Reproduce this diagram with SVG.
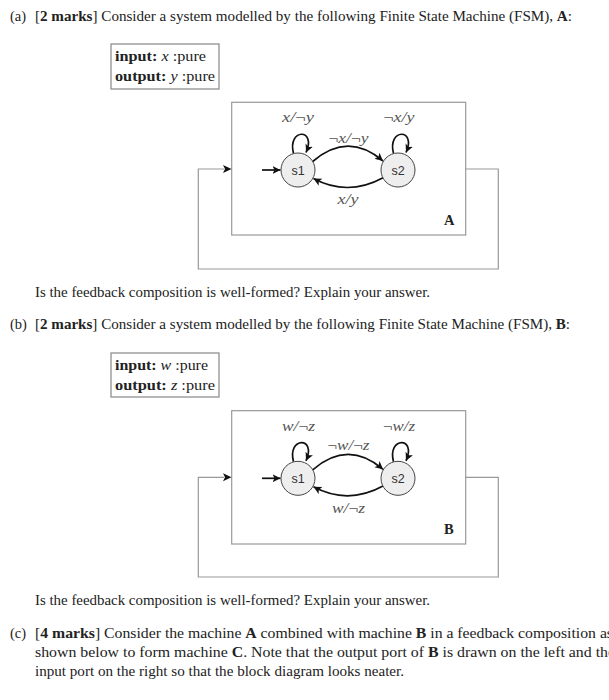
<svg xmlns="http://www.w3.org/2000/svg" width="609" height="700" viewBox="0 0 609 700">
<style>
.t{font-family:"Liberation Serif","DejaVu Serif",serif;font-size:14.5px;fill:#222}
.b{font-weight:bold}
.m{font-family:"Liberation Serif","DejaVu Serif",serif;font-style:italic;font-size:15px;fill:#555}
.frame{fill:none;stroke:#999;stroke-width:1.2}
.wire{fill:none;stroke:#999;stroke-width:1.2}
.edge{fill:none;stroke:#111;stroke-width:1.7}
.st{fill:#eeeeee;stroke:#444;stroke-width:1}
.sl{font-family:"Liberation Sans","DejaVu Sans",sans-serif;font-size:12.5px;fill:#333;text-anchor:middle}
.io{fill:#fff;stroke:#888;stroke-width:1.2}
</style>
<defs>
<marker id="arr" markerUnits="userSpaceOnUse" markerWidth="10" markerHeight="10" refX="8" refY="4" orient="auto">
<path d="M0,0 L8,4 L0,8 L2,4 z" fill="#111"/>
</marker>
</defs>
<rect width="609" height="700" fill="#fff"/>

<!-- Section (a) -->
<g id="textA">
<text class="t" x="10" y="21">(a)</text>
<text class="t" x="35" y="21" textLength="537" lengthAdjust="spacingAndGlyphs">[<tspan class="b">2 marks</tspan>] Consider a system modelled by the following Finite State Machine (FSM), <tspan class="b">A</tspan>:</text>
</g>
<g id="ioA">
<rect class="io" x="111" y="44" width="108" height="45"/>
<text class="t" x="115" y="61" textLength="91" lengthAdjust="spacingAndGlyphs"><tspan class="b">input:</tspan> <tspan font-style="italic">x</tspan> :pure</text>
<text class="t" x="115" y="81" textLength="100" lengthAdjust="spacingAndGlyphs"><tspan class="b">output:</tspan> <tspan font-style="italic">y</tspan> :pure</text>
</g>
<g id="machineA">
<rect class="frame" x="231.7" y="102.3" width="234" height="132.7"/>
<text class="t b" x="444" y="224.5">A</text>
</g>
<g id="connectorsA">
<path class="wire" d="M465.7,169 H498.3 V269 H198.3 V169 H224"/>
<path d="M223,165 L231.5,169 L223,173 L225,169 z" fill="#111"/>
<path class="edge" d="M262,170 H280.5" marker-end="url(#arr)"/>
<path class="edge" d="M312.7,161.5 Q348,131 383,161" marker-end="url(#arr)"/>
<path class="edge" d="M383.5,177.5 Q348,197 313.5,178.5" marker-end="url(#arr)"/>
<path class="edge" d="M293.5,153.5 C287,128 317,128 306,152.5" marker-end="url(#arr)"/>
<path class="edge" d="M393.5,153.5 C387,128 417,128 406,152.5" marker-end="url(#arr)"/>
<text class="m" x="282" y="122" textLength="32" lengthAdjust="spacingAndGlyphs">x/<tspan font-style="normal">¬</tspan>y</text>
<text class="m" x="328.5" y="143" textLength="40" lengthAdjust="spacingAndGlyphs"><tspan font-style="normal">¬</tspan>x/<tspan font-style="normal">¬</tspan>y</text>
<text class="m" x="383.5" y="122" textLength="31" lengthAdjust="spacingAndGlyphs"><tspan font-style="normal">¬</tspan>x/y</text>
<text class="m" x="337.5" y="204" textLength="21" lengthAdjust="spacingAndGlyphs">x/y</text>
</g>
<g id="A_s1">
<circle class="st" cx="298" cy="170" r="17"/>
<text class="sl" x="298" y="174.5">s1</text>
</g>
<g id="A_s2">
<circle class="st" cx="398" cy="170" r="17"/>
<text class="sl" x="398" y="174.5">s2</text>
</g>
<g id="qA">
<text class="t" x="35" y="297" textLength="395" lengthAdjust="spacingAndGlyphs">Is the feedback composition is well-formed? Explain your answer.</text>
</g>

<!-- Section (b) -->
<g transform="translate(0,308)">
<g id="textB">
<text class="t" x="10" y="21">(b)</text>
<text class="t" x="35" y="21" textLength="535" lengthAdjust="spacingAndGlyphs">[<tspan class="b">2 marks</tspan>] Consider a system modelled by the following Finite State Machine (FSM), <tspan class="b">B</tspan>:</text>
</g>
<g id="ioB">
<rect class="io" x="111" y="45" width="108" height="44"/>
<text class="t" x="115" y="62" textLength="93" lengthAdjust="spacingAndGlyphs"><tspan class="b">input:</tspan> <tspan font-style="italic">w</tspan> :pure</text>
<text class="t" x="115" y="82" textLength="100" lengthAdjust="spacingAndGlyphs"><tspan class="b">output:</tspan> <tspan font-style="italic">z</tspan> :pure</text>
</g>
<g id="machineB">
<rect class="frame" x="231.7" y="102.7" width="234" height="133.3"/>
<text class="t b" x="444" y="226">B</text>
</g>
<g id="connectorsB">
<path class="wire" d="M465.7,169.3 H498.3 V269 H198.3 V169.3 H224"/>
<path d="M223,165.3 L231.5,169.3 L223,173.3 L225,169.3 z" fill="#111"/>
<path class="edge" d="M262,170.3 H280.5" marker-end="url(#arr)"/>
<path class="edge" d="M312.7,161.8 Q348,131.3 383,161.3" marker-end="url(#arr)"/>
<path class="edge" d="M383.5,177.8 Q348,197.3 313.5,178.8" marker-end="url(#arr)"/>
<path class="edge" d="M293.5,153.8 C287,128.3 317,128.3 306,152.8" marker-end="url(#arr)"/>
<path class="edge" d="M393.5,153.8 C387,128.3 417,128.3 406,152.8" marker-end="url(#arr)"/>
<text class="m" x="282" y="122.5" textLength="33" lengthAdjust="spacingAndGlyphs">w/<tspan font-style="normal">¬</tspan>z</text>
<text class="m" x="327.5" y="142" textLength="42" lengthAdjust="spacingAndGlyphs"><tspan font-style="normal">¬</tspan>w/<tspan font-style="normal">¬</tspan>z</text>
<text class="m" x="383" y="122.5" textLength="32" lengthAdjust="spacingAndGlyphs"><tspan font-style="normal">¬</tspan>w/z</text>
<text class="m" x="332" y="205" textLength="33" lengthAdjust="spacingAndGlyphs">w/<tspan font-style="normal">¬</tspan>z</text>
</g>
<g id="B_s1">
<circle class="st" cx="298" cy="170.3" r="17"/>
<text class="sl" x="298" y="174.8">s1</text>
</g>
<g id="B_s2">
<circle class="st" cx="398" cy="170.3" r="17"/>
<text class="sl" x="398" y="174.8">s2</text>
</g>
<g id="qB">
<text class="t" x="35" y="297" textLength="395" lengthAdjust="spacingAndGlyphs">Is the feedback composition is well-formed? Explain your answer.</text>
</g>
</g>

<!-- Section (c) -->
<g id="textC">
<text class="t" x="10" y="638">(c)</text>
<text class="t" x="35" y="638" textLength="578" lengthAdjust="spacingAndGlyphs">[<tspan class="b">4 marks</tspan>] Consider the machine <tspan class="b">A</tspan> combined with machine <tspan class="b">B</tspan> in a feedback composition as</text>
<text class="t" x="35" y="657" textLength="580" lengthAdjust="spacingAndGlyphs">shown below to form machine <tspan class="b">C</tspan>. Note that the output port of <tspan class="b">B</tspan> is drawn on the left and the</text>
<text class="t" x="35" y="676" textLength="369" lengthAdjust="spacingAndGlyphs">input port on the right so that the block diagram looks neater.</text>
</g>
</svg>
